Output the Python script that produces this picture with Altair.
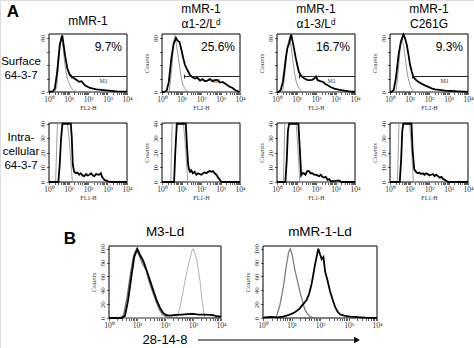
import altair as alt
import pandas as pd

# ---------------- data (x = log10 fluorescence position, y = counts) ----------------
# Panel A, top row (Surface 64-3-7), FL2-H
s1_gray_x = [0, 0.3, 0.4, 0.5, 0.62, 0.72, 0.82, 0.92, 1.0, 1.16, 1.3, 1.5, 4.0]
s1_gray_y = [0, 0, 8, 45, 82, 66, 40, 22, 15, 5, 2, 0, 0]
s1_black_x = [0, 0.08, 0.2, 0.3, 0.42, 0.55, 0.68, 0.75, 0.82, 0.94, 1.07, 1.24, 1.41, 1.55, 1.67, 1.84, 2.1, 2.43, 2.94, 3.46, 3.97, 4.0]
s1_black_y = [0, 0.5, 1, 5, 30, 70, 84, 70, 55, 35, 25, 21, 18, 15, 16, 10, 6, 4, 2.5, 1, 0.5, 0]

s2_gray_x = [0, 0.3, 0.38, 0.5, 0.6, 0.67, 0.78, 0.89, 0.98, 1.06, 1.16, 1.26, 1.4, 4]
s2_gray_y = [0, 0, 3, 35, 75, 84, 62, 40, 22, 12, 5, 2, 0, 0]
s2_black_x = [0, 0.15, 0.24, 0.35, 0.48, 0.6, 0.72, 0.8, 0.9, 1.0, 1.09, 1.18, 1.26, 1.35, 1.44, 1.56, 1.69, 1.82, 1.95, 2.08, 2.2, 2.33, 2.46, 2.6, 2.72, 2.85, 2.97, 3.1, 3.23, 3.36, 3.49, 3.62, 3.74, 3.86, 3.97]
s2_black_y = [0, 0.5, 2, 15, 50, 72, 80, 76, 74, 62, 50, 40, 35, 30, 25, 22, 20, 21, 17, 19, 16, 17, 19, 16, 17.5, 18, 14, 15, 12.5, 10, 7.5, 6, 3, 1.5, 0]

s3_gray_x = [0, 0.25, 0.31, 0.45, 0.55, 0.65, 0.74, 0.82, 0.9, 0.99, 1.08, 1.16, 1.3, 4]
s3_gray_y = [0, 0, 3, 40, 70, 81, 65, 45, 28, 15, 8, 4, 0, 0]
s3_black_x = [0, 0.1, 0.19, 0.3, 0.39, 0.46, 0.53, 0.62, 0.68, 0.73, 0.8, 0.87, 0.95, 1.04, 1.12, 1.21, 1.31, 1.41, 1.54, 1.67, 1.8, 1.92, 2.0, 2.09, 2.22, 2.35, 2.48, 2.6, 2.77, 2.94, 3.2, 3.46, 3.7, 4]
s3_black_y = [0, 0.5, 3, 15, 35, 52, 65, 72, 80, 85, 75, 65, 52, 40, 30, 25, 22, 20, 18, 17.5, 18, 20, 23, 17.5, 16, 15, 12, 10, 7, 5, 3, 2, 1, 0]

s4_gray_x = [0, 0.25, 0.32, 0.42, 0.52, 0.61, 0.7, 0.83, 0.9, 0.98, 1.05, 1.12, 1.25, 4]
s4_gray_y = [0, 0, 3, 30, 65, 80, 68, 40, 25, 15, 8, 4, 0, 0]
s4_black_x = [0, 0.1, 0.19, 0.3, 0.44, 0.56, 0.69, 0.77, 0.86, 0.95, 1.03, 1.12, 1.2, 1.33, 1.46, 1.58, 1.71, 1.84, 1.97, 2.13, 2.3, 2.55, 2.81, 3.15, 3.49, 3.8, 4]
s4_black_y = [0, 0.5, 3, 20, 55, 75, 85, 80, 70, 55, 40, 30, 22, 18, 15, 13, 11, 9, 7.5, 5.5, 4, 3, 2, 1.5, 1, 0.5, 0]

# Panel A, bottom row (Intracellular 64-3-7), FL1-H
i1_gray_x = [0, 0.34, 0.43, 0.95, 1.03, 1.2, 4]
i1_gray_y = [0, 0, 40, 40, 30, 0, 0]
i1_black_x = [0, 0.48, 0.55, 0.62, 0.69, 1.12, 1.17, 1.22, 1.29, 1.38, 1.46, 1.55, 1.63, 1.72, 1.81, 1.9, 1.98, 2.07, 2.16, 2.25, 2.33, 2.42, 2.5, 2.59, 2.66, 2.72, 2.84, 3.02, 3.2, 4]
i1_black_y = [0, 0, 12, 30, 40, 40, 30, 12, 7, 6, 6.5, 5, 6, 4.5, 4, 5.5, 4.5, 5, 6, 4.5, 4, 5.5, 5, 5, 6, 3.5, 1.5, 0.5, 0, 0]

i2_gray_x = [0, 0.45, 0.52, 1.1, 1.18, 1.33, 4]
i2_gray_y = [0, 0, 40, 40, 28, 0, 0]
i2_black_x = [0, 0.62, 0.68, 0.76, 1.22, 1.28, 1.34, 1.38, 1.44, 1.5, 1.58, 1.67, 1.76, 1.85, 1.93, 2.02, 2.1, 2.19, 2.28, 2.36, 2.45, 2.54, 2.62, 2.7, 2.79, 2.88, 2.97, 3.05, 4]
i2_black_y = [0, 0, 20, 40, 40, 25, 12, 9, 7, 8, 6, 7, 5, 6, 5.5, 5, 6, 6.5, 6, 7, 7.5, 7, 7.5, 6, 5, 3, 1.5, 0, 0]

i3_gray_x = [0, 0.33, 0.4, 0.98, 1.05, 1.17, 4]
i3_gray_y = [0, 0, 40, 40, 28, 0, 0]
i3_black_x = [0, 0.43, 0.5, 0.56, 0.62, 1.1, 1.16, 1.24, 1.31, 1.38, 1.46, 1.55, 1.64, 1.72, 1.81, 1.9, 1.98, 2.07, 2.16, 2.25, 2.33, 2.41, 2.5, 2.59, 2.68, 2.76, 2.9, 3.05, 3.19, 3.3, 3.5, 4]
i3_black_y = [0, 0, 15, 35, 40, 40, 25, 4.5, 6, 6, 5, 7.5, 7.5, 6, 6, 5, 5, 4.5, 4, 5, 3.5, 3, 3.5, 1.5, 2, 0.5, 0.5, 1, 1, 0, 0, 0]

i4_gray_x = [0, 0.38, 0.46, 1.0, 1.08, 1.2, 4]
i4_gray_y = [0, 0, 40, 40, 28, 0, 0]
i4_black_x = [0, 0.5, 0.57, 0.63, 0.68, 1.1, 1.16, 1.24, 1.33, 1.42, 1.5, 1.59, 1.68, 1.77, 1.85, 1.94, 2.02, 2.11, 2.2, 2.29, 2.37, 2.46, 2.55, 2.64, 2.72, 2.81, 2.92, 3.0, 4]
i4_black_y = [0, 0, 15, 35, 40, 40, 22, 9, 7, 6, 6.5, 5.5, 6, 5, 6, 5.5, 4.5, 5, 5.5, 4, 5, 4, 3, 3.5, 2, 1.5, 0.5, 0, 0]

# Panel B (28-14-8)
b1_black_x = [0, 0.45, 0.57, 0.68, 0.8, 0.9, 1.01, 1.1, 1.23, 1.35, 1.46, 1.58, 1.7, 1.82, 1.94, 2.06, 2.18, 2.3, 2.42, 2.6, 2.8, 3.0, 3.2, 3.4, 3.6, 3.73, 3.85, 4]
b1_black_y = [0, 0, 3, 25, 60, 88, 100, 92, 82, 68, 55, 40, 26, 15, 7, 4, 3.5, 4, 4.5, 5, 5.5, 6, 5, 5, 4.5, 4, 2.5, 2]
b1_dgray_x = [0, 0.4, 0.52, 0.64, 0.76, 0.88, 0.98, 1.08, 1.2, 1.32, 1.44, 1.56, 1.68, 1.8, 1.92, 2.05, 2.2, 4]
b1_dgray_y = [0, 0, 4, 28, 62, 90, 99, 90, 78, 70, 52, 38, 24, 12, 5, 2, 0.5, 0]
b1_lgray_x = [0, 2.35, 2.45, 2.54, 2.63, 2.71, 2.8, 2.89, 2.95, 3.0, 3.06, 3.13, 3.19, 3.25, 3.31, 3.37, 3.42, 3.5, 4]
b1_lgray_y = [0, 0, 3, 16, 35, 53, 70, 85, 96, 100, 94, 85, 70, 53, 30, 12, 1, 0, 0]

b2_gray_x = [0, 0.4, 0.47, 0.59, 0.71, 0.82, 0.9, 0.96, 1.03, 1.11, 1.2, 1.29, 1.38, 1.47, 1.56, 1.65, 1.8, 4]
b2_gray_y = [0, 0, 2, 18, 44, 76, 95, 100, 90, 71, 55, 39, 25, 12, 6, 2, 0, 0]
b2_black_x = [0, 0.06, 0.3, 0.5, 0.71, 0.88, 1.06, 1.18, 1.29, 1.41, 1.53, 1.62, 1.71, 1.82, 1.88, 1.94, 2.0, 2.06, 2.12, 2.18, 2.26, 2.35, 2.44, 2.53, 2.62, 2.71, 2.88, 3.06, 3.23, 3.41, 3.6, 4]
b2_black_y = [0, 1, 1.5, 1, 2, 4, 7, 10, 14, 20, 26, 35, 50, 76, 88, 100, 92, 85, 88, 67, 55, 39, 27, 16, 9, 5, 3, 2, 1.5, 1, 0.5, 0]

# Labels / annotations
surface_titles = [["mMR-1"], ["mMR-1", "α1-2/Lᵈ"], ["mMR-1", "α1-3/Lᵈ"], ["mMR-1", "C261G"]]
surface_percent = ["9.7%", "25.6%", "16.7%", "9.3%"]
m1_start_log = [1.15, 1.15, 1.15, 1.15]
m1_level = 23
b_titles = ["M3-Ld", "mMR-1-Ld"]

# ---------------- layout & style ----------------
CW, CH = 474, 348
SANS = "Liberation Sans"
SERIF = "Liberation Serif"
COL_X = [49, 162, 277, 390]
PW = 78
ROW1_Y, ROW1_H = 34, 58
ROW2_Y, ROW2_H = 123, 59
B_Y, B_H = 246, 72
B_X = [109, 263]
B_W = [112, 114]

XTICKS = [m * 10 ** e for e in range(4) for m in range(1, 10)] + [10000]
LOG_EXPR = ("datum.value == 1 ? '10⁰' : datum.value == 10 ? '10¹' : datum.value == 100 ? '10²' : "
            "datum.value == 1000 ? '10³' : datum.value == 10000 ? '10⁴' : ''")


def scales(x0, y0, w, h, top):
    sx = alt.Scale(type="log", domain=[1, 10000], range=[x0, x0 + w], nice=False)
    sy = alt.Scale(type="linear", domain=[0, top], range=[y0 + h, y0], nice=False, zero=False)
    return sx, sy


def x_axis(y_bottom, title):
    kw = dict(orient="bottom", offset=y_bottom - CH, values=XTICKS, labelExpr=LOG_EXPR,
              labelOverlap=False, labelFlush=False, labelFont=SERIF, labelFontSize=7.5,
              labelColor="#333", labelPadding=1, tickSize=2.5, tickColor="#333", tickWidth=0.8,
              domain=False, grid=False)
    if title:
        kw.update(title=title, titleFont=SERIF, titleFontSize=6, titleFontWeight="normal",
                  titleColor="#333", titlePadding=1)
    else:
        kw.update(title="")
    return alt.Axis(**kw)


def y_axis(x_left, values, label_expr, counts=True):
    kw = dict(orient="left", offset=-x_left, values=values, labelExpr=label_expr, labelAngle=270,
              labelFont=SERIF, labelFontSize=7, labelColor="#333", labelPadding=1, tickSize=2.5,
              tickColor="#333", tickWidth=0.8, domain=False, grid=False, labelOverlap=False)
    if counts:
        kw.update(title="Counts", titleFont=SERIF, titleFontStyle="italic", titleFontSize=7,
                  titleFontWeight="normal", titleColor="#444", titlePadding=2)
    else:
        kw.update(title="")
    return alt.Axis(**kw)


def frame(sx, sy, top, xa, ya):
    df = pd.DataFrame({"x": [1], "x2": [10000], "y": [0], "y2": [top]})
    return alt.Chart(df).mark_rect(fillOpacity=0, stroke="black", strokeWidth=1).encode(
        x=alt.X("x:Q", scale=sx, axis=xa), x2="x2:Q",
        y=alt.Y("y:Q", scale=sy, axis=ya), y2="y2:Q")


def curve(xs, ys, color, width, sx, sy):
    df = pd.DataFrame({"x": [10 ** v for v in xs], "y": ys})
    return alt.Chart(df).mark_line(color=color, strokeWidth=width).encode(
        x=alt.X("x:Q", scale=sx, axis=None), y=alt.Y("y:Q", scale=sy, axis=None))


def label(txt, x, y, size, weight="normal", font=SANS, align="center", color="black"):
    df = pd.DataFrame({"t": [txt]})
    return alt.Chart(df).mark_text(font=font, fontSize=size, fontWeight=weight, align=align,
                                   baseline="middle", color=color).encode(
        x=alt.value(x), y=alt.value(y), text="t:N")


layers = []

# ---- row 1: surface ----
surface_curves = [(s1_gray_x, s1_gray_y, s1_black_x, s1_black_y),
                  (s2_gray_x, s2_gray_y, s2_black_x, s2_black_y),
                  (s3_gray_x, s3_gray_y, s3_black_x, s3_black_y),
                  (s4_gray_x, s4_gray_y, s4_black_x, s4_black_y)]
for k, (gx, gy, bx, by) in enumerate(surface_curves):
    x0 = COL_X[k]
    sx, sy = scales(x0, ROW1_Y, PW, ROW1_H, 86)
    layers.append(frame(sx, sy, 86, x_axis(ROW1_Y + ROW1_H, "FL2-H"),
                        y_axis(x0, [0, 20, 40, 60, 80],
                               "datum.value == 0 || datum.value == 80 ? datum.label : ''", counts=k > 0)))
    layers.append(curve(gx, gy, "#9a9a9a", 1, sx, sy))
    layers.append(curve(bx, by, "black", 1.8, sx, sy))
    m1 = pd.DataFrame({"x": [10 ** m1_start_log[k]], "x2": [10000], "y": [m1_level],
                       "ya": [m1_level - 3], "yb": [m1_level + 3]})
    layers.append(alt.Chart(m1).mark_rule(color="#222", strokeWidth=1).encode(
        x=alt.X("x:Q", scale=sx, axis=None), x2="x2:Q", y=alt.Y("y:Q", scale=sy, axis=None)))
    layers.append(alt.Chart(m1).mark_rule(color="#222", strokeWidth=1).encode(
        x=alt.X("x:Q", scale=sx, axis=None), y=alt.Y("ya:Q", scale=sy, axis=None), y2="yb:Q"))
    ml = pd.DataFrame({"x": [10 ** 2.8], "y": [16], "t": ["M1"]})
    layers.append(alt.Chart(ml).mark_text(font=SERIF, fontSize=6, color="#333").encode(
        x=alt.X("x:Q", scale=sx, axis=None), y=alt.Y("y:Q", scale=sy, axis=None), text="t:N"))
    layers.append(label(surface_percent[k], x0 + PW - 5, ROW1_Y + 13, 12, align="right"))
    t = surface_titles[k]
    cx = x0 + PW / 2
    if len(t) == 1:
        layers.append(label(t[0], cx, 21, 12))
    else:
        layers.append(label(t[0], cx, 9, 12))
        layers.append(label(t[1], cx, 24, 12))

# ---- row 2: intracellular ----
intra_curves = [(i1_gray_x, i1_gray_y, i1_black_x, i1_black_y),
                (i2_gray_x, i2_gray_y, i2_black_x, i2_black_y),
                (i3_gray_x, i3_gray_y, i3_black_x, i3_black_y),
                (i4_gray_x, i4_gray_y, i4_black_x, i4_black_y)]
for k, (gx, gy, bx, by) in enumerate(intra_curves):
    x0 = COL_X[k]
    sx, sy = scales(x0, ROW2_Y, PW, ROW2_H, 40.5)
    layers.append(frame(sx, sy, 40.5, x_axis(ROW2_Y + ROW2_H, "FL1-H"),
                        y_axis(x0, [0, 10, 20, 30, 40], "datum.label", counts=k > 0)))
    layers.append(curve(gx, gy, "#a0a0a0", 1, sx, sy))
    layers.append(curve(bx, by, "black", 1.8, sx, sy))

# ---- row B ----
b_curves = [[(b1_lgray_x, b1_lgray_y, "#b0b0b0", 1), (b1_dgray_x, b1_dgray_y, "#6a6a6a", 1.3),
             (b1_black_x, b1_black_y, "black", 1.8)],
            [(b2_gray_x, b2_gray_y, "#808080", 1.3), (b2_black_x, b2_black_y, "black", 1.8)]]
for k in range(2):
    x0 = B_X[k]
    sx, sy = scales(x0, B_Y, B_W[k], B_H, 104)
    layers.append(frame(sx, sy, 104, x_axis(B_Y + B_H, ""),
                        y_axis(x0, [0, 20, 40, 60, 80, 100], "datum.label")))
    for (cxs, cys, col, wd) in b_curves[k]:
        layers.append(curve(cxs, cys, col, wd, sx, sy))
    layers.append(label(b_titles[k], x0 + B_W[k] / 2, 232, 13.5))

# ---- free text ----
layers.append(label("A", 13, 12, 17, weight="bold"))
layers.append(label("B", 70, 239, 17, weight="bold"))
for txt, yy in [("Surface", 62), ("64-3-7", 76)]:
    layers.append(label(txt, 21, yy, 11.5))
for txt, yy in [("Intra-", 138), ("cellular", 152), ("64-3-7", 166)]:
    layers.append(label(txt, 21, yy, 11.5))
layers.append(label("28-14-8", 165, 340, 13))
arrow = pd.DataFrame({"a": [0]})
layers.append(alt.Chart(arrow).mark_rule(color="black", strokeWidth=1.2).encode(
    x=alt.value(198), x2=alt.value(354), y=alt.value(340)))
layers.append(alt.Chart(arrow).mark_point(shape="triangle-right", filled=True, color="black",
                                          size=45, opacity=1).encode(x=alt.value(357), y=alt.value(340)))

chart = alt.layer(*layers).resolve_scale(x="independent", y="independent").resolve_axis(
    x="independent", y="independent").properties(
    width=CW, height=CH, padding=0, autosize=alt.AutoSizeParams(type="none")
).configure_view(strokeOpacity=0).configure(background="white")

chart.save("out.html", embed_options={"renderer": "svg", "actions": False})
